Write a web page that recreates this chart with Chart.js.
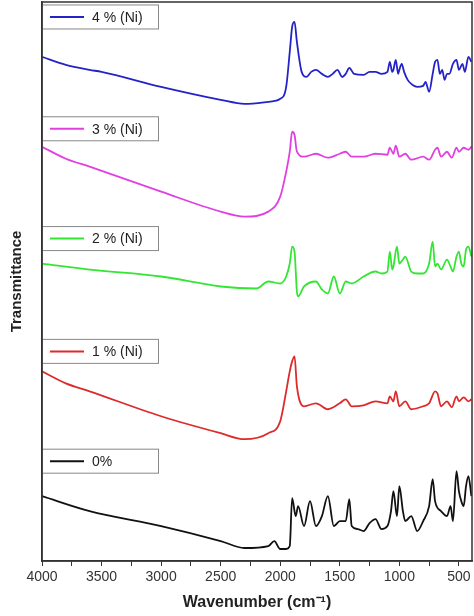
<!DOCTYPE html>
<html><head><meta charset="utf-8">
<script src="https://cdn.jsdelivr.net/npm/chart.js@4/dist/chart.umd.min.js"></script>
<style>html,body{margin:0;padding:0;background:#fff}#w{width:474px;height:616px}</style>
</head><body><div id="w"><canvas id="c"></canvas></div>
<script>
const xTicks=[4000,3750,3500,3250,3000,2750,2500,2250,2000,1750,1500,1250,1000,750,500];
const seriesNames=["4 % (Ni)","3 % (Ni)","2 % (Ni)","1 % (Ni)","0%"];
const seriesColors=["#2323c8","#e040e0","#33e633","#dd2a2a","#111111"];
// readings: [wavenumber, level] (level: higher = lower on page)
const ni4=[[4000,55],[3800,63],[3600,68],[3500,70],[3000,85],[2500,98],[2300,102],[2100,100],[2000,97],[1950,85],[1920,50],[1900,25],[1880,20],[1860,40],[1820,70],[1780,75],[1740,70],[1700,68],[1650,72],[1600,75],[1560,72],[1520,68],[1480,75],[1450,72],[1420,66],[1380,72],[1300,73],[1250,70],[1200,70],[1150,72],[1100,70],[1080,60],[1060,70],[1050,68],[1030,58],[1010,72],[1000,68],[980,62],[960,70],[930,78],[900,82],[850,85],[800,84],[780,80],[750,90],[720,72],[700,60],[680,58],[660,72],[640,68],[620,78],[600,72],[580,72],[550,62],[520,58],[500,68],[470,62],[450,70],[420,55],[395,60]];
const ni3=[[4000,145],[3800,157],[3600,165],[3000,190],[2500,210],[2300,215],[2100,210],[2000,195],[1950,170],[1920,150],[1900,130],[1880,133],[1860,150],[1800,155],[1700,152],[1600,156],[1500,152],[1450,150],[1400,155],[1300,155],[1200,152],[1100,153],[1080,146],[1050,152],[1030,144],[1000,155],[950,152],[900,158],[800,155],[750,158],[700,148],[680,146],[650,155],[600,150],[560,156],[520,146],[500,150],[460,146],[420,148],[395,145]];
const ni2=[[4000,262],[3600,268],[3000,275],[2500,285],[2200,287],[2100,280],[2000,282],[1950,275],[1920,262],[1900,245],[1880,250],[1860,290],[1850,295],[1800,285],[1700,280],[1650,288],[1600,292],[1550,275],[1500,292],[1450,280],[1400,282],[1300,275],[1200,270],[1150,272],[1100,270],[1080,250],[1060,268],[1050,265],[1020,245],[1000,262],[970,258],[950,255],[900,270],[850,272],[800,272],[750,262],[720,240],[700,265],[680,262],[650,268],[600,258],[570,265],[550,270],[520,255],[500,250],[480,262],[460,265],[440,248],[420,245],[395,255]];
const ni1=[[4000,370],[3800,382],[3600,390],[3000,415],[2500,432],[2300,438],[2100,432],[2000,420],[1950,390],[1920,370],[1900,360],[1880,355],[1860,385],[1800,405],[1700,402],[1600,408],[1500,402],[1450,398],[1400,405],[1300,404],[1200,400],[1100,402],[1080,395],[1050,400],[1030,390],[1000,405],[950,400],[900,408],[800,405],[750,402],[700,390],[680,392],[650,405],[600,400],[560,406],[520,395],[500,400],[460,396],[420,400],[395,398]];
const ni0=[[4000,495],[3600,510],[3000,525],[2500,540],[2300,547],[2100,545],[2050,540],[2000,548],[1950,548],[1920,545],[1900,497],[1870,515],[1850,505],[1800,525],[1750,500],[1700,525],[1650,515],[1600,495],[1550,525],[1500,520],[1450,520],[1420,498],[1400,525],[1350,528],[1300,530],[1250,522],[1200,518],[1150,528],[1100,525],[1070,510],[1050,490],[1020,515],[1000,485],[970,510],[950,520],[900,515],[850,530],[800,520],[750,505],[720,478],[700,500],[650,510],[600,515],[570,505],[550,520],[520,470],[500,490],[480,500],[460,505],[440,485],[420,475],[395,495]];
const all=[ni4,ni3,ni2,ni1,ni0];
const legendPos=[15,127,237,350,460];

const legendPlugin={id:'lp',afterDatasetsDraw(ch){
  const c=ch.ctx,a=ch.chartArea,ys=ch.scales.y;
  c.save();
  seriesNames.forEach((n,i)=>{
    const yc=ys.getPixelForValue(legendPos[i]);
    c.fillStyle='#fff';c.strokeStyle='#888';c.lineWidth=1;
    c.fillRect(a.left,yc-12,116,24);c.strokeRect(a.left+0.5,yc-12,116,24);
    c.strokeStyle=seriesColors[i];c.lineWidth=2;
    c.beginPath();c.moveTo(a.left+8,yc);c.lineTo(a.left+42,yc);c.stroke();
    c.fillStyle='#222';c.font='14px "Liberation Sans", Arial';c.textBaseline='middle';
    c.fillText(n,a.left+50,yc+1);
  });
  c.restore();
}};

new Chart(document.getElementById('c'),{
  type:'line',
  data:{datasets:all.map((s,i)=>({label:seriesNames[i],data:s.map(p=>({x:p[0],y:p[1]})),borderColor:seriesColors[i],borderWidth:1.8,pointRadius:0,cubicInterpolationMode:'monotone',fill:false}))},
  options:{animation:false,responsive:true,maintainAspectRatio:false,
    layout:{padding:{top:2,right:2,left:8,bottom:0}},
    plugins:{legend:{display:false},tooltip:{enabled:false}},
    scales:{
      x:{type:'linear',reverse:true,min:390,max:4000,
        afterBuildTicks(s){s.ticks=xTicks.map(v=>({value:v}));},
        ticks:{autoSkip:false,maxRotation:0,color:'#333',font:{size:14,family:'"Liberation Sans", Arial'},callback:v=>v%500===0?String(v):''},
        grid:{drawOnChartArea:false,tickLength:5,color:'#333'},border:{color:'#333',width:1.5},
        title:{display:true,text:'Wavenumber (cm⁻¹)',color:'#222',font:{size:16,weight:'bold',family:'"Liberation Sans", Arial'},padding:{top:4}}},
      y:{reverse:true,min:0,max:560,
        ticks:{display:false},grid:{drawOnChartArea:false,drawTicks:false},border:{color:'#333',width:1.5},
        title:{display:true,text:'Transmittance',color:'#222',font:{size:15,weight:'bold',family:'"Liberation Sans", Arial'},padding:{top:0,bottom:16}}}
    }},
  plugins:[legendPlugin,{id:'frame',afterDraw(ch){const a=ch.chartArea,c=ch.ctx;c.save();c.strokeStyle='#333';c.lineWidth=1.5;c.strokeRect(a.left,a.top,a.right-a.left,a.bottom-a.top);c.restore();}}]
});
</script></body></html>
